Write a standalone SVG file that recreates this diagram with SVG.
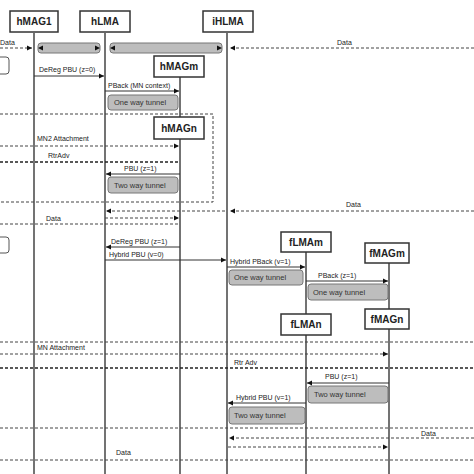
<svg xmlns="http://www.w3.org/2000/svg" width="474" height="474" viewBox="0 0 474 474">
<defs>
<marker id="ah" markerWidth="6" markerHeight="6" refX="5" refY="3" orient="auto" markerUnits="userSpaceOnUse"><path d="M0,0.5 L5,3 L0,5.5 z" fill="#111"/></marker>
</defs>
<style>
.box{fill:#fff;stroke:#333;stroke-width:1.5}
.bt{font-family:"Liberation Sans",Arial,sans-serif;font-weight:bold;font-size:10px;fill:#222;text-anchor:middle}
.life{stroke:#444;stroke-width:1.5;fill:none}
.msg{stroke:#333;stroke-width:1;fill:none}
.dash{stroke:#444;stroke-width:1;stroke-dasharray:3,2;fill:none}
.dashb{stroke:#222;stroke-width:1.5;stroke-dasharray:3,2;fill:none}
.t{font-family:"Liberation Sans",Arial,sans-serif;font-size:7px;fill:#222}
.tun{fill:#bdbdbd;stroke:#777;stroke-width:1}
.tt{font-family:"Liberation Sans",Arial,sans-serif;font-size:7.5px;fill:#333}
.cap{fill:#111}
</style>
<g id="lifelines">
<line class="life" x1="34" y1="33" x2="34" y2="474"/>
<line class="life" x1="105" y1="33" x2="105" y2="474"/>
<line class="life" x1="227" y1="33" x2="227" y2="474"/>
<line class="life" x1="180" y1="77" x2="180" y2="117"/>
<line class="life" x1="180" y1="139" x2="180" y2="474"/>
<line class="life" x1="306" y1="252" x2="306" y2="474"/>
<line class="life" x1="389" y1="263" x2="389" y2="474"/>
</g>
<g id="hMAG1"><rect class="box" x="10" y="11" width="48" height="21"/><text class="bt" x="34" y="25">hMAG1</text></g>
<g id="hLMA"><rect class="box" x="80" y="11" width="50" height="21"/><text class="bt" x="105" y="25">hLMA</text></g>
<g id="iHLMA"><rect class="box" x="203" y="11" width="50" height="21"/><text class="bt" x="228" y="25">iHLMA</text></g>
<g id="hMAGm"><rect class="box" x="154" y="56" width="50" height="21"/><text class="bt" x="179" y="70">hMAGm</text></g>
<g id="hMAGn"><rect class="box" x="154" y="117" width="50" height="22"/><text class="bt" x="179" y="132">hMAGn</text></g>
<g id="fLMAm"><rect class="box" x="281" y="232" width="50" height="20"/><text class="bt" x="306" y="246">fLMAm</text></g>
<g id="fMAGm"><rect class="box" x="365" y="243" width="44" height="20"/><text class="bt" x="387" y="257">fMAGm</text></g>
<g id="fLMAn"><rect class="box" x="281" y="314" width="50" height="21"/><text class="bt" x="306" y="328">fLMAn</text></g>
<g id="fMAGn"><rect class="box" x="365" y="309" width="44" height="20"/><text class="bt" x="387" y="323">fMAGn</text></g>
<g id="sideboxes">
<rect x="-8" y="57" width="17" height="17" rx="3" fill="#fff" stroke="#555"/>
<rect x="-8" y="237" width="17" height="16" rx="3" fill="#fff" stroke="#555"/>
</g>
<g id="tunnels">
<rect class="tun" x="38" y="43" width="62" height="10" rx="3"/>
<path class="cap" d="M38,48 L43,45.5 L43,50.5 z M100,48 L95,45.5 L95,50.5 z"/>
<rect class="tun" x="110" y="43" width="112" height="10" rx="3"/>
<path class="cap" d="M110,48 L115,45.5 L115,50.5 z M222,48 L217,45.5 L217,50.5 z"/>
<rect class="tun" x="108" y="95" width="70" height="15" rx="3"/><text class="tt" x="114" y="105">One way tunnel</text>
<rect class="tun" x="108" y="177" width="70" height="16" rx="3"/><text class="tt" x="114" y="188">Two way tunnel</text>
<rect class="tun" x="229" y="270" width="74" height="15" rx="3"/><text class="tt" x="234" y="280">One way tunnel</text>
<rect class="tun" x="308" y="284" width="80" height="16" rx="3"/><text class="tt" x="313" y="295">One way tunnel</text>
<rect class="tun" x="308" y="386" width="80" height="17" rx="3"/><text class="tt" x="314" y="397">Two way tunnel</text>
<rect class="tun" x="229" y="407" width="76" height="17" rx="3"/><text class="tt" x="234" y="418">Two way tunnel</text>
</g>
<g id="connectors">
<line class="dash" x1="0" y1="48" x2="32" y2="48" marker-end="url(#ah)"/>
<line class="dash" x1="474" y1="48" x2="230" y2="48" marker-end="url(#ah)"/>
<line class="msg" x1="34" y1="76" x2="104" y2="76" marker-end="url(#ah)"/>
<line class="msg" x1="105" y1="91" x2="179" y2="91" marker-end="url(#ah)"/>
<path class="dash" d="M0,114 H213 V202 H0"/>
<line class="dash" x1="0" y1="146" x2="179" y2="146" marker-end="url(#ah)"/>
<line class="dashb" x1="0" y1="162" x2="180" y2="162"/>
<line class="msg" x1="180" y1="174" x2="106" y2="174" marker-end="url(#ah)"/>
<line class="dash" x1="225" y1="211" x2="106" y2="211" marker-end="url(#ah)"/>
<line class="dash" x1="474" y1="211" x2="230" y2="211" marker-end="url(#ah)"/>
<line class="dash" x1="105" y1="218" x2="179" y2="218" marker-end="url(#ah)"/>
<line class="dash" x1="0" y1="224" x2="180" y2="224"/>
<line class="msg" x1="180" y1="247" x2="106" y2="247" marker-end="url(#ah)"/>
<line class="msg" x1="105" y1="260" x2="226" y2="260" marker-end="url(#ah)"/>
<line class="msg" x1="227" y1="267" x2="305" y2="267" marker-end="url(#ah)"/>
<line class="msg" x1="306" y1="281" x2="388" y2="281" marker-end="url(#ah)"/>
<line class="dash" x1="0" y1="342" x2="474" y2="342"/>
<line class="dash" x1="0" y1="354" x2="388" y2="354" marker-end="url(#ah)"/>
<line class="dashb" x1="0" y1="368" x2="474" y2="368"/>
<line class="msg" x1="389" y1="383" x2="307" y2="383" marker-end="url(#ah)"/>
<line class="msg" x1="306" y1="403" x2="228" y2="403" marker-end="url(#ah)"/>
<line class="dash" x1="0" y1="428" x2="474" y2="428"/>
<line class="dash" x1="474" y1="438" x2="229" y2="438" marker-end="url(#ah)"/>
<line class="dash" x1="228" y1="447" x2="388" y2="447" marker-end="url(#ah)"/>
<line class="dash" x1="0" y1="460" x2="474" y2="460"/>
</g>
<g id="labels">
<text class="t" x="0" y="45">Data</text>
<text class="t" x="337" y="45">Data</text>
<text class="t" x="39" y="72">DeReg PBU (z=0)</text>
<text class="t" x="108" y="88">PBack (MN context)</text>
<text class="t" x="37" y="141">MN2 Attachment</text>
<text class="t" x="48" y="158">RtrAdv</text>
<text class="t" x="124" y="171">PBU (z=1)</text>
<text class="t" x="346" y="207">Data</text>
<text class="t" x="46" y="221">Data</text>
<text class="t" x="111" y="244">DeReg PBU (z=1)</text>
<text class="t" x="109" y="257">Hybrid PBU (v=0)</text>
<text class="t" x="230" y="264">Hybrid PBack (v=1)</text>
<text class="t" x="318" y="278">PBack (z=1)</text>
<text class="t" x="37" y="350">MN Attachment</text>
<text class="t" x="234" y="365">Rtr Adv</text>
<text class="t" x="325" y="379">PBU (z=1)</text>
<text class="t" x="236" y="400">Hybrid PBU (v=1)</text>
<text class="t" x="421" y="436">Data</text>
<text class="t" x="116" y="455">Data</text>
</g>
</svg>
